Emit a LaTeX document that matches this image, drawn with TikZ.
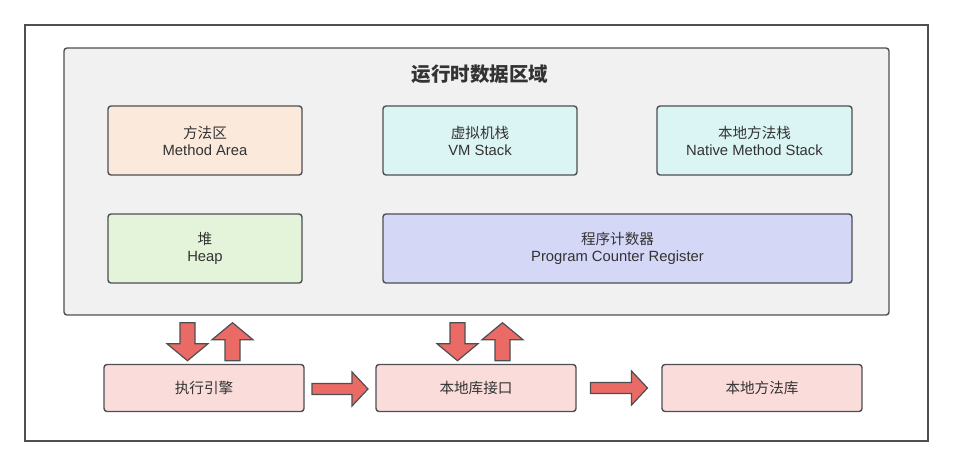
\documentclass[tikz,border=0pt]{standalone}
\usepackage{fontspec}
\setmainfont{Liberation Sans}
\newfontfamily\cjk{Noto Sans CJK SC}
\usetikzlibrary{calc}
\definecolor{edge}{HTML}{4D4F53}
\definecolor{ink}{HTML}{333333}
\definecolor{areagray}{HTML}{F1F1F1}
\definecolor{methodfill}{HTML}{FBE9DB}
\definecolor{stackfill}{HTML}{DBF4F4}
\definecolor{heapfill}{HTML}{E4F4DB}
\definecolor{pcfill}{HTML}{D5D7F7}
\definecolor{ifacefill}{HTML}{FADCDA}
\definecolor{arrowred}{HTML}{EA6B66}
\newcommand\zh[1]{{\cjk\fontsize{14.6}{17}\selectfont #1}}
\tikzset{
  card/.style={draw=edge, line width=1.4pt, rounded corners=3pt, minimum width=194pt, minimum height=69pt, align=center, text=ink, font=\fontsize{14.8}{17}\selectfont},
  lowcard/.style={card, fill=ifacefill, minimum width=200pt, minimum height=47pt},
  arrowfill/.style={fill=arrowred, draw=edge, line width=1.2pt, line join=miter},
  pics/blockarrow/.style n args={4}{code={
    \path[arrowfill] (0,-#3) -- (#1-#2,-#3) -- (#1-#2,-#4) -- (#1,0) -- (#1-#2,#4) -- (#1-#2,#3) -- (0,#3) -- cycle;}}
}

\begin{document}
\begin{tikzpicture}[x=1pt, y=-1pt]
  \useasboundingbox (0,0) rectangle (953,467);
  \draw[edge, line width=1.4pt] (25,25) rectangle (928,441);

  \node[card, fill=areagray, minimum width=825pt, minimum height=267pt] (rda) at (476.5,181.5) {};
  \node[text=ink, font=\cjk\bfseries\fontsize{19.5}{22}\selectfont] (title) at (480,74) {运行时数据区域};

  \node[card, fill=methodfill] (method) at (205,140.5) {\zh{方法区}\\Method Area};
  \node[card, fill=stackfill] (vmstack) at (480,140.5) {\zh{虚拟机栈}\\VM Stack};
  \node[card, fill=stackfill, minimum width=195pt] (nstack) at (754.5,140.5) {\zh{本地方法栈}\\Native Method Stack};
  \node[card, fill=heapfill] (heap) at (205,248.5) {\zh{堆}\\Heap};
  \node[card, fill=pcfill, minimum width=469pt] (pcreg) at (617.5,248.5) {\zh{程序计数器}\\Program Counter Register};

  \node[lowcard] (engine) at (204,388) {\zh{执行引擎}};
  \node[lowcard] (nif) at (476,388) {\zh{本地库接口}};
  \node[lowcard] (nlib) at (762,388) {\zh{本地方法库}};

  \pic[rotate=-90] at ($(rda.south -| engine.north)+(-16.5,7)$) {blockarrow={38}{17}{7.5}{20.5}};
  \pic[rotate=90] at ($(rda.south -| engine.north)+(28.5,45)$) {blockarrow={38}{17}{7.5}{20.5}};
  \pic[rotate=-90] at ($(rda.south -| nif.north)+(-18.5,7)$) {blockarrow={38}{17}{7.5}{20.5}};
  \pic[rotate=90] at ($(rda.south -| nif.north)+(26.5,45)$) {blockarrow={38}{17}{7.5}{20.5}};
  \pic at ($(engine.east)!0.5!(nif.west)+(-28,1)$) {blockarrow={56}{16}{5.5}{17}};
  \pic at ($(nif.east)!0.5!(nlib.west)+(-28.5,0)$) {blockarrow={57}{16}{5.5}{17}};
\end{tikzpicture}
\end{document}
